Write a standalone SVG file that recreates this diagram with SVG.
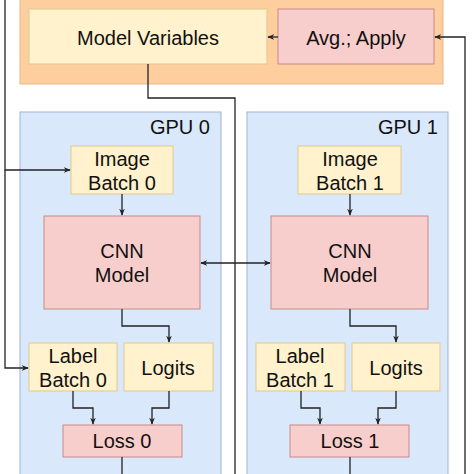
<svg xmlns="http://www.w3.org/2000/svg" width="474" height="474" viewBox="0 0 474 474">
<style>
.t{font-family:"Liberation Sans",Arial,sans-serif;font-size:20px;fill:#111;text-anchor:middle}
.g{font-family:"Liberation Sans",Arial,sans-serif;font-size:20px;fill:#111;text-anchor:end}
.y{fill:#fff2cc;stroke:#e0c98a;stroke-width:1}
.r{fill:#f8cecc;stroke:#c88a88;stroke-width:1}
.b{fill:#dae8fc;stroke:#9fb3cf;stroke-width:1}
.c{fill:none;stroke:#222;stroke-width:1.3}
</style>
<defs>
<marker id="a" viewBox="0 0 10 10" refX="9" refY="5" markerWidth="7" markerHeight="7" orient="auto-start-reverse" markerUnits="userSpaceOnUse"><path d="M0,1 L10,5 L0,9 L3,5 Z" fill="#222"/></marker>
</defs>
<g id="host"><rect x="20" y="-10" width="423" height="94" fill="#ffce9f" stroke="#e8b888"/></g>
<g id="gpu0"><rect class="b" x="20" y="112" width="201" height="372"/><text class="g" x="210" y="134">GPU 0</text></g>
<g id="gpu1"><rect class="b" x="247" y="112" width="201" height="372"/><text class="g" x="438" y="134">GPU 1</text></g>
<g id="modelvars"><rect class="y" x="29" y="9" width="238" height="55"/><text class="t" x="148" y="45">Model Variables</text></g>
<g id="avg"><rect class="r" x="278" y="9" width="156" height="55"/><text class="t" x="356" y="45">Avg.; Apply</text></g>
<g id="img0"><rect class="y" x="71" y="146" width="102" height="48"/><text class="t" x="122" y="166">Image</text><text class="t" x="122" y="190">Batch 0</text></g>
<g id="img1"><rect class="y" x="298" y="146" width="103" height="48"/><text class="t" x="350" y="166">Image</text><text class="t" x="350" y="190">Batch 1</text></g>
<g id="cnn0"><rect class="r" x="44" y="216" width="156" height="93"/><text class="t" x="122" y="258">CNN</text><text class="t" x="122" y="282">Model</text></g>
<g id="cnn1"><rect class="r" x="271" y="216" width="157" height="93"/><text class="t" x="350" y="258">CNN</text><text class="t" x="350" y="282">Model</text></g>
<g id="label0"><rect class="y" x="29" y="343" width="88" height="48"/><text class="t" x="73" y="363">Label</text><text class="t" x="73" y="387">Batch 0</text></g>
<g id="logits0"><rect class="y" x="124" y="343" width="89" height="48"/><text class="t" x="168" y="375">Logits</text></g>
<g id="label1"><rect class="y" x="256" y="343" width="89" height="48"/><text class="t" x="300" y="363">Label</text><text class="t" x="300" y="387">Batch 1</text></g>
<g id="logits1"><rect class="y" x="352" y="343" width="88" height="48"/><text class="t" x="396" y="375">Logits</text></g>
<g id="loss0"><rect class="r" x="63" y="425" width="119" height="32"/><text class="t" x="122" y="448">Loss 0</text></g>
<g id="loss1"><rect class="r" x="290" y="425" width="119" height="32"/><text class="t" x="350" y="448">Loss 1</text></g>
<g id="connectors">
<path class="c" d="M278,37 H268" marker-end="url(#a)"/>
<path class="c" d="M465,474 V37 H435" marker-end="url(#a)"/>
<path class="c" d="M148,64 V98 H235 V474"/>
<path class="c" d="M5,0 V170 H70" marker-end="url(#a)"/>
<path class="c" d="M5,170 V368 H28" marker-end="url(#a)"/>
<path class="c" d="M122,194 V215" marker-end="url(#a)"/>
<path class="c" d="M350,194 V215" marker-end="url(#a)"/>
<path class="c" d="M201,263 H270" marker-start="url(#a)" marker-end="url(#a)"/>
<path class="c" d="M122,309 V326 H169 V342" marker-end="url(#a)"/>
<path class="c" d="M350,309 V326 H396 V342" marker-end="url(#a)"/>
<path class="c" d="M73,391 V408 H93 V424" marker-end="url(#a)"/>
<path class="c" d="M169,391 V408 H152 V424" marker-end="url(#a)"/>
<path class="c" d="M301,391 V408 H320 V424" marker-end="url(#a)"/>
<path class="c" d="M396,391 V408 H378 V424" marker-end="url(#a)"/>
<path class="c" d="M122,457 V474"/>
<path class="c" d="M350,457 V474"/>
</g>
</svg>
